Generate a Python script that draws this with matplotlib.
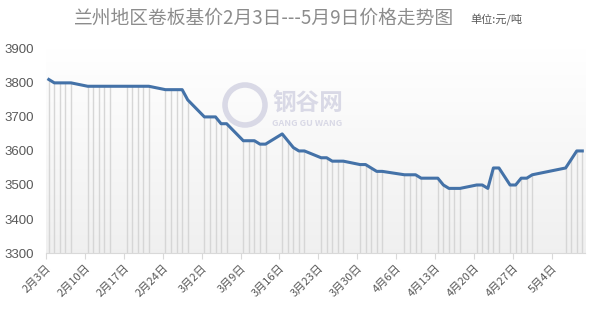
import numpy as np
import pandas as pd
import matplotlib
matplotlib.use("Agg")
import matplotlib.pyplot as plt
from matplotlib.patches import Circle

plt.rcParams['font.family'] = ['Noto Sans CJK SC', 'DejaVu Sans']

# --- data (2020, working days only) ---
dates = [
    "2020-02-03", "2020-02-04", "2020-02-05", "2020-02-06", "2020-02-07",
    "2020-02-10", "2020-02-11", "2020-02-12", "2020-02-13", "2020-02-14",
    "2020-02-17", "2020-02-18", "2020-02-19", "2020-02-20", "2020-02-21",
    "2020-02-24", "2020-02-25", "2020-02-26", "2020-02-27", "2020-02-28",
    "2020-03-02", "2020-03-03", "2020-03-04", "2020-03-05", "2020-03-06",
    "2020-03-09", "2020-03-10", "2020-03-11", "2020-03-12", "2020-03-13",
    "2020-03-16", "2020-03-17", "2020-03-18", "2020-03-19", "2020-03-20",
    "2020-03-23", "2020-03-24", "2020-03-25", "2020-03-26", "2020-03-27",
    "2020-03-30", "2020-03-31", "2020-04-01", "2020-04-02", "2020-04-03",
    "2020-04-07", "2020-04-08", "2020-04-09", "2020-04-10",
    "2020-04-13", "2020-04-14", "2020-04-15", "2020-04-16", "2020-04-17",
    "2020-04-20", "2020-04-21", "2020-04-22", "2020-04-23", "2020-04-24",
    "2020-04-26", "2020-04-27", "2020-04-28", "2020-04-29", "2020-04-30",
    "2020-05-06", "2020-05-07", "2020-05-08", "2020-05-09",
]
prices = [
    3810, 3800, 3800, 3800, 3800,
    3790, 3790, 3790, 3790, 3790,
    3790, 3790, 3790, 3790, 3790,
    3780, 3780, 3780, 3780, 3750,
    3700, 3700, 3700, 3680, 3680,
    3630, 3630, 3630, 3620, 3620,
    3650, 3630, 3610, 3600, 3600,
    3580, 3580, 3570, 3570, 3570,
    3560, 3560, 3550, 3540, 3540,
    3530, 3530, 3530, 3520,
    3520, 3500, 3490, 3490, 3490,
    3500, 3500, 3490, 3550, 3550,
    3500, 3500, 3520, 3520, 3530,
    3550, 3575, 3600, 3600,
]
y_ticks = [3300, 3400, 3500, 3600, 3700, 3800, 3900]
title = "兰州地区卷板基价2月3日---5月9日价格走势图"
unit = "单位:元/吨"

# points sit in the middle of each day slot (excel date axis style)
x = pd.to_datetime(dates) + pd.Timedelta(hours=12)
y = np.array(prices)

fig = plt.figure(figsize=(6.03, 3.09), dpi=100)
ax = fig.add_axes([0.0763, 0.181, 0.894, 0.661])

start = pd.Timestamp("2020-02-03")
end = pd.Timestamp("2020-05-10")
ax.set_xlim(start, end)
ax.set_ylim(3300, 3900)

# light vertical gradient in plot area
grad = np.linspace(1.0, 0.94, 256).reshape(-1, 1)
ax.imshow(np.dstack([grad, grad, grad]), extent=[0, 1, 0, 1], transform=ax.transAxes,
          aspect='auto', zorder=0)

ax.vlines(x, 3300, y, color='#d6d6d6', lw=1, zorder=1)
ax.plot(x, y, color='#4472a8', lw=2.2, zorder=3, solid_joinstyle='round')

ax.set_yticks(y_ticks)
ax.set_yticklabels([str(v) for v in y_ticks], family=['Liberation Sans', 'DejaVu Sans'],
                   fontsize=9.5, color='#595959')
ax.tick_params(axis='y', length=0, pad=9)

xt = pd.date_range(start, "2020-05-04", freq="7D")
ax.set_xticks(xt)
ax.set_xticklabels([f"{d.month}月{d.day}日" for d in xt], rotation=45, ha='right',
                   rotation_mode='anchor', fontsize=8, color='#595959')
ax.tick_params(axis='x', length=4, color='#d9d9d9', pad=3)

for s in ['top', 'right', 'left']:
    ax.spines[s].set_visible(False)
ax.spines['bottom'].set_color('#d9d9d9')

# titles
fig.text(0.438, 0.94, title, ha='center', va='center', fontsize=13.5, color='#8c8c8c')
fig.text(0.78, 0.935, unit, ha='left', va='center', fontsize=8, color='#595959')

# faint watermark
wm = '#d9d9e6'
fig.patches.append(Circle((2.45, (309 - 105) / 100), 0.2, transform=fig.dpi_scale_trans,
                          facecolor='none', edgecolor=wm, lw=4, zorder=2))
fig.text(0.51, 1 - 103 / 309, "钢谷网", ha='center', va='center', fontsize=17,
         color=wm, fontweight='bold')
fig.text(0.51, 1 - 124 / 309, "GANG GU WANG", ha='center', va='center', fontsize=6.5,
         color=wm, fontweight='bold')

fig.savefig("out.png", dpi=100)
